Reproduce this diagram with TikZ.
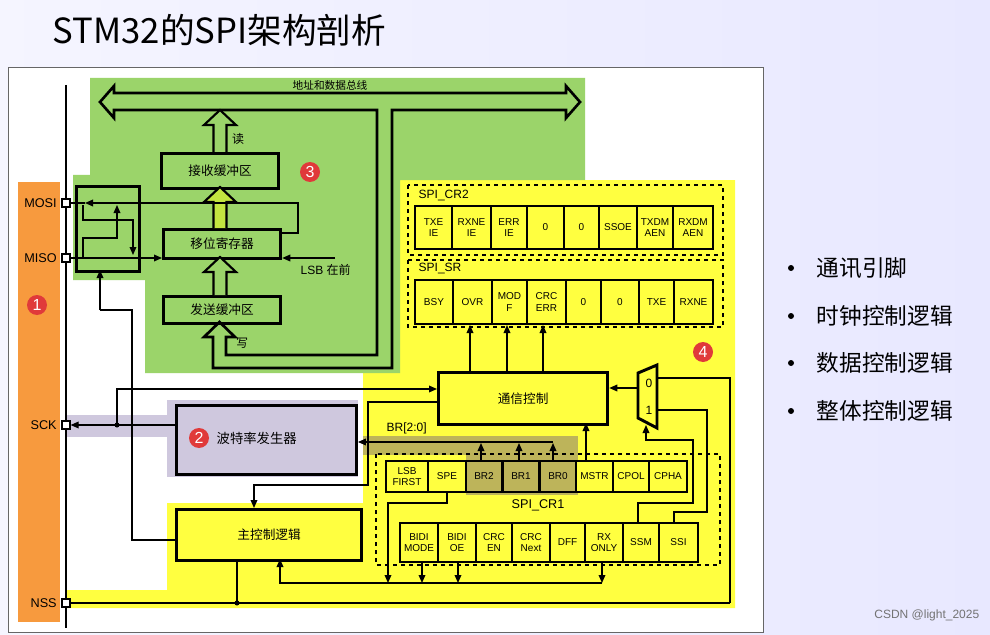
\documentclass[tikz,border=0pt]{standalone}
\usepackage{fontspec}
\setmainfont{Liberation Sans}
\newfontfamily\cjk{Noto Sans CJK SC}
\usetikzlibrary{arrows.meta,calc}
\definecolor{gr}{HTML}{9BD46A}
\definecolor{yl}{HTML}{FFFF40}
\definecolor{lav}{HTML}{CFC8DE}
\definecolor{olv}{HTML}{BDB45A}
\definecolor{org}{HTML}{F79A3E}
\definecolor{rd}{HTML}{E03A3A}
\tikzset{
 thk/.style={line width=2.2pt},
 ln/.style={line width=0.9pt},
 arr/.style={ln,-{Triangle[length=6pt,width=5pt]}},
 boxn/.style={draw,thk,inner sep=0pt,font=\cjk\fontsize{9.5}{11}\selectfont},
 regc/.style={draw,line width=1.8pt,inner sep=0pt,align=center,font=\fontsize{7.5}{8.5}\selectfont,minimum height=#1},
 dash box/.style={draw,ln,dashed},
 badge/.style={circle,fill=rd,text=white,inner sep=0pt,minimum size=15pt,font=\fontsize{12}{12}\selectfont},
 pin/.style={draw,fill=white,ln,minimum size=6pt,inner sep=0pt},
 pinl/.style={font=\fontsize{9.5}{10}\selectfont,anchor=east},
 hol/.style={draw,line width=1.6pt,line join=miter},
}
\newcommand\hollowup[5]{% x, ybottom, ytop, fill
 \path[hol,fill=#4] (#1-6.5,#2)--(#1-6.5,#3+15)--(#1-16,#3+15)--(#1,#3)--(#1+16,#3+15)--(#1+6.5,#3+15)--(#1+6.5,#2)#5;}
\begin{document}
\begin{tikzpicture}[x=0.75pt,y=-0.75pt]
\useasboundingbox (0,0) rectangle (990,635);
\shade[left color=white!96!blue,right color=white!70!blue!30] (0,0) rectangle (990,635);
\node[anchor=west,font=\cjk\fontsize{26}{30}\selectfont] (title) at (48,30) {STM32的SPI架构剖析};
% white panel
\draw[fill=white,draw=black!60,line width=0.4pt] (8,67) rectangle (763,632);
% regions
\fill[yl] (400,180)--(735,180)--(735,608)--(66,608)--(66,590)--(167,590)--(167,503)--(363,503)--(363,365)--(400,365)--cycle;
\fill[gr] (90,78)--(585,78)--(585,180)--(400,180)--(400,373)--(145,373)--(145,280)--(73,280)--(73,175)--(90,175)--cycle;
\fill[lav] (66,415) rectangle (175,437);
\fill[lav] (167,400) rectangle (358,477);
\fill[olv] (363,436) rectangle (578,455);
\fill[olv] (466,436) rectangle (578,495);
\fill[org] (18,182) rectangle (60,622);
\draw[line width=1.5pt] (66,85)--(66,628);
% bus
\path[hol,fill=gr,line width=2pt] (100,102)--(114,86)--(114,93)--(566,93)--(566,86)--(580,102)--(566,118)--(566,110)--(392,110)--(392,368)--(213,368)--(213,337)--(204,337)--(219.5,322)--(235,337)--(226,337)--(226,355)--(377,355)--(377,110)--(114,110)--(114,118)--cycle;
\node[font=\cjk\fontsize{8}{9}\selectfont] (busl) at (330,85) {地址和数据总线};
% boxes
\node[boxn,minimum width=88pt,minimum height=26pt,anchor=north west] (rx) at (160,152) {接收缓冲区};
\node[boxn,minimum width=88pt,minimum height=22pt,anchor=north west] (sh) at (162,228) {移位寄存器};
\node[boxn,minimum width=88pt,minimum height=20pt,anchor=north west] (tx) at (162,295) {发送缓冲区};
\hollowup{220}{152}{110}{gr}{}
\hollowup{220}{228}{187}{gr!60!yellow}{}
\hollowup{220}{295}{257}{gr}{}
\node[font=\cjk\fontsize{9}{10}\selectfont] (rd) at (238,139) {读};
\node[font=\cjk\fontsize{9}{10}\selectfont] (wr) at (242,343) {写};
\node[anchor=west,font=\fontsize{9}{10}\selectfont] (lsb) at (296,270) {LSB \cjk 在前};
\node[badge] (b3) at (310,172) {3};
\node[badge] (b1) at (37,305) {1};
\node[badge] (b4) at (703,352) {4};
% pin box
\node[draw,thk,minimum width=47pt,minimum height=64pt,anchor=north west,inner sep=0pt] (pbox) at (75,185) {};
\node[pin] (mosi) at (66,203) {};
\node[pin] (miso) at (66,258) {};
\node[pin] (sck) at (66,425) {};
\node[pin] (nss) at (66,603) {};
\node[pinl] at (mosi.west) {MOSI};
\node[pinl] at (miso.west) {MISO};
\node[pinl] at (sck.west) {SCK};
\node[pinl] at (nss.west) {NSS};
\coordinate (sh1) at (280,233);
\draw[arr] (sh1)--(298,233)--(298,203)--(85,203);
\draw[ln] (mosi.east)--(85,203);
\draw[arr] (83,205)--(83,220)--(133,220)--(133,255);
\draw[arr] (83,258)--(83,238)--(117,238)--(117,205);
\draw[arr] (miso.east)--(miso.east-|sh.south west);
\draw[arr] (miso.east-|335,0)--(miso.east-|sh.south east);
% baud
\node[boxn,fill=lav,minimum width=135pt,minimum height=52pt,anchor=north west] (baud) at (175,404) {};
\node[badge] (b2) at (199,438) {2};
\node[anchor=west,font=\cjk\fontsize{10}{11}\selectfont] (baudl) at (212,438) {波特率发生器};
\coordinate (sckdot) at (117,425);
\draw[arr] (baud.west|-sck)--(sck.east);
\fill (sckdot) circle (2.5);
% comm control
\node[boxn,minimum width=127pt,minimum height=39pt,anchor=north west] (comm) at (437,371) {通信控制};
\draw[arr] (sckdot)--(117,389)--(comm.west|-0,389);
% main control
\node[boxn,minimum width=139pt,minimum height=38pt,anchor=north west] (mainc) at (175,508) {主控制逻辑};
\draw[arr] (100,310)--(100,270);
\draw[ln] (100,310)--(132,310)--(132,540)--(175,540);
\draw[arr] (437,402)--(368,402)--(368,485)--(254,485)--(254,508);
% SPI_CR2
\draw[dash box] (408,185) rectangle (723,255);
\node[anchor=west,font=\fontsize{9}{10}\selectfont] at (414,196) {SPI\_CR2};
\foreach \a/\b/\t [count=\i] in {415/452/{TXE\\IE},452/491/{RXNE\\IE},491/527/{ERR\\IE},527/564/0,564/599/0,599/637/SSOE,637/673/{TXDM\\AEN},673/713/{RXDM\\AEN}}
 \node[regc=32pt,fill=yl,minimum width={(\b-\a)*0.75pt}] (cr2\i) at ({(\a+\b)/2},227.5) {\t};
% SPI_SR
\draw[dash box] (408,260) rectangle (723,327);
\node[anchor=west,font=\fontsize{9}{10}\selectfont] at (414,269) {SPI\_SR};
\foreach \a/\b/\t [count=\i] in {415/453/BSY,453/492/OVR,492/527/{MOD\\F},527/566/{CRC\\ERR},566/601/0,601/639/0,639/674/TXE,674/713/RXNE}
 \node[regc=33pt,fill=yl,minimum width={(\b-\a)*0.75pt}] (sr\i) at ({(\a+\b)/2},302) {\t};
\foreach \x in {470,507,543} \draw[arr] (\x,371)--(\x,325);
% mux
\draw[thk,fill=yl] (638,373)--(657,365)--(657,428)--(638,418)--cycle;
\node[font=\fontsize{9}{10}\selectfont] (m0) at (649,383) {0};
\node[font=\fontsize{9}{10}\selectfont] (m1) at (649,410) {1};
\draw[arr] (638,388)--(comm.east|-0,388);
\draw[ln] (657,378)--(730,378)--(730,603);
\draw[ln] (nss.east)--(730,603);
\fill (237,603) circle (2.5);
\draw[ln] (237,603)--(237,559);
% SPI_CR1
\draw[dash box] (376,454) rectangle (720,565);
\foreach \a/\b/\t [count=\i] in {386/428/{LSB\\FIRST},428/466/SPE,466/502/BR2,502/540/BR1,540/576/BR0,576/613/MSTR,613/649/CPOL,649/687/CPHA}
 \node[regc=23pt,fill=yl,minimum width={(\b-\a)*0.75pt}] (cr1\i) at ({(\a+\b)/2},476.5) {\t};
\foreach \i in {3,4,5} \node[regc=23pt,fill=olv,minimum width=27pt] at (cr1\i) {BR\the\numexpr5-\i\relax};
\node[font=\fontsize{9.5}{10}\selectfont] (cr1l) at (538,505) {SPI\_CR1};
\foreach \a/\b/\t [count=\i] in {400/438/{BIDI\\MODE},438/476/{BIDI\\OE},476/512/{CRC\\EN},512/550/{CRC\\Next},550/585/DFF,585/623/{RX\\ONLY},623/659/SSM,659/698/SSI}
 \node[regc=29pt,fill=yl,minimum width={(\b-\a)*0.75pt}] (cb\i) at ({(\a+\b)/2},542.5) {\t};
% BR lines
\draw[arr] (553,442)--(baud.east|-0,442);
\foreach \x in {481,519,553} \draw[arr] (\x,461)--(\x,443);
\node[anchor=west,font=\fontsize{9}{10}\selectfont] (brl) at (382,428) {BR[2:0]};
\draw[arr] (586,461)--(586,423);
% mux select / inputs
\draw[arr] (638,523)--(638,503)--(693,503)--(693,440)--(646,440)--(646,425);
\draw[ln] (674,523)--(674,512)--(707,512)--(707,410)--(657,410);
% bottom bus
\draw[arr] (602,583)--(280,583)--(280,559);
\draw[arr] (447,492)--(447,503)--(388,503)--(388,583);
\draw[arr] (422,562)--(422,583);
\draw[arr] (458,562)--(458,583);
\draw[arr] (602,562)--(602,583);
% bullets
\foreach \y/\t [count=\i] in {268/通讯引脚,316/时钟控制逻辑,363/数据控制逻辑,411/整体控制逻辑}{
 \fill (791,\y) circle (3);
 \node[anchor=west,font=\cjk\fontsize{17}{20}\selectfont] (bl\i) at (812,\y) {\t};}
\node[anchor=east,text=black!55,font=\fontsize{9}{10}\selectfont] (wm) at (984,615) {CSDN @light\_2025};
\end{tikzpicture}
\end{document}
